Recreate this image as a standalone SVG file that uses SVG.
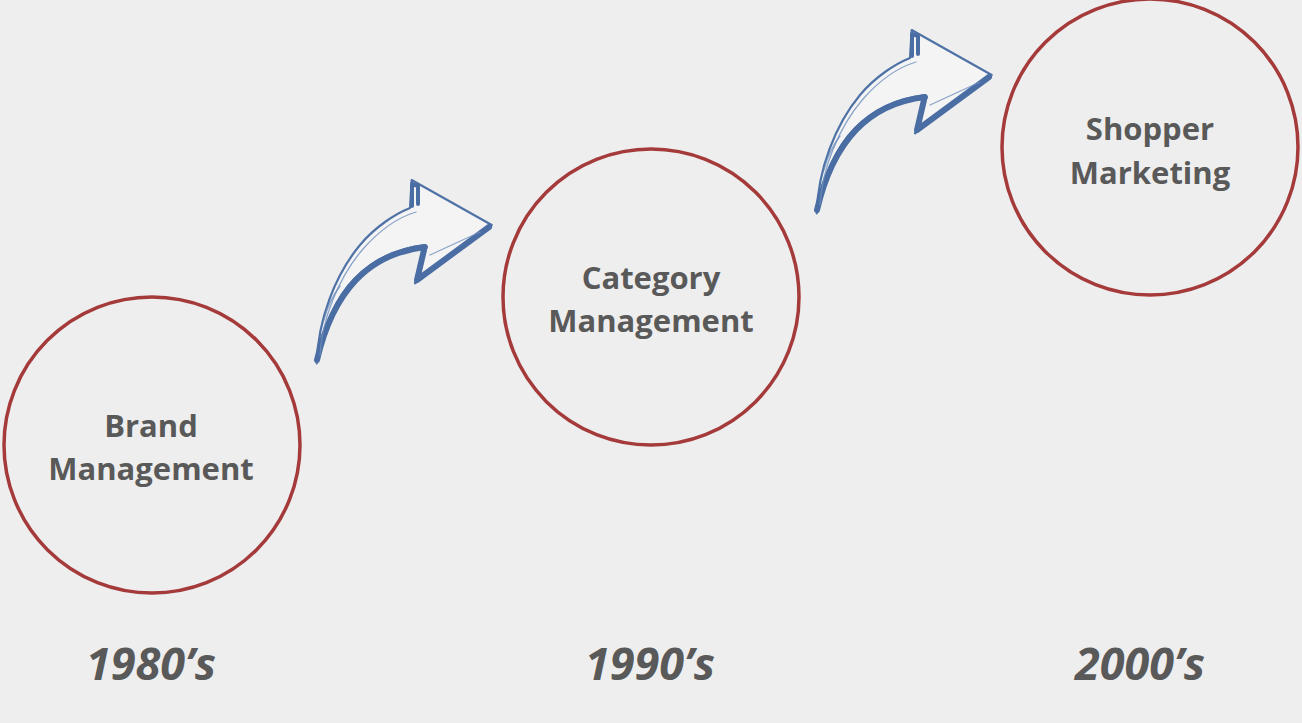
<svg xmlns="http://www.w3.org/2000/svg" xmlns:xlink="http://www.w3.org/1999/xlink" width="1302" height="723" viewBox="0 0 1302 723">
<style>
.ring{fill:none;stroke:#a53a3b;stroke-width:3.5}
.lbl{font-family:"Open Sans","Liberation Sans",sans-serif;font-weight:700;font-size:31px;fill:#595959;text-anchor:middle}
.yr{font-family:"Open Sans","Liberation Sans",sans-serif;font-weight:700;font-style:italic;font-size:45px;fill:#595959;text-anchor:middle}
.afill{fill:#f4f4f4;stroke:#4f72a6;stroke-width:2.2;stroke-linejoin:round}
.athick{fill:none;stroke:#4a6ea3;stroke-width:6;stroke-linecap:round;stroke-linejoin:round}
.athin{fill:none;stroke:#6f8fbd;stroke-width:1.3;stroke-linecap:round;opacity:0.8}
</style>
<defs>
<g id="arrow">
<path class="afill" d="M16.7,193.3 C18,150 35,105 60,75 C75,57 95,44 110,38 L111.7,10 L191.7,55 L115,113.3 L125,75 C100,78 75,88 55,108 C35,128 22,160 16.7,193.3 Z"/>
<path class="athick" d="M125,77 C100,80 75,90 56,110 C37,130 24,160 17,190"/>
<path class="athick" d="M189,57 L117,110 L124,80"/>
<path class="athick" d="M112,36 L112,14 L118,16 L118,34" style="stroke-width:4"/>
<path class="athin" d="M20,185 C22,150 38,108 63,79 C78,62 96,48 116,42"/>
<path class="athin" d="M130,85 L180,62"/>
<path class="athin" d="M24,150 C28,135 33,125 40,116"/>
</g>
</defs>
<rect width="1302" height="723" fill="#eeeeee"/>
<g id="connectors">
<use xlink:href="#arrow" transform="translate(300,170)"/>
<use xlink:href="#arrow" transform="translate(800,20)"/>
</g>
<g id="node-brand">
<circle class="ring" cx="152" cy="445" r="148"/>
<text class="lbl" x="151" y="437">Brand</text>
<text class="lbl" x="151" y="480">Management</text>
</g>
<g id="node-category">
<circle class="ring" cx="651" cy="297" r="148"/>
<text class="lbl" x="651" y="289">Category</text>
<text class="lbl" x="651" y="332">Management</text>
</g>
<g id="node-shopper">
<circle class="ring" cx="1150" cy="147" r="148"/>
<text class="lbl" x="1150" y="140">Shopper</text>
<text class="lbl" x="1150" y="184">Marketing</text>
</g>
<g id="years">
<text class="yr" x="151" y="680">1980’s</text>
<text class="yr" x="650" y="680">1990’s</text>
<text class="yr" x="1140" y="680">2000’s</text>
</g>
</svg>
